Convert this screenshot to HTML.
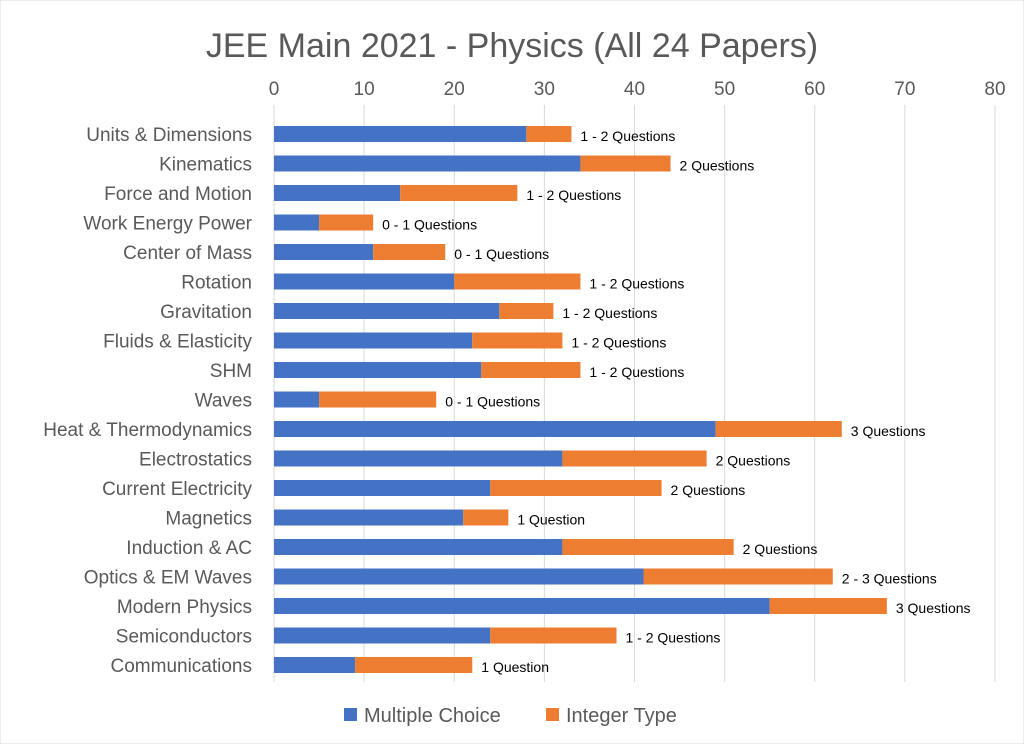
<!DOCTYPE html>
<html><head><meta charset="utf-8"><style>
body{margin:0;background:#fff;}
svg text{font-family:"Liberation Sans",sans-serif;}
</style></head><body>
<svg id="chart" width="1024" height="744" xmlns="http://www.w3.org/2000/svg">
<rect width="1024" height="744" fill="#fff" stroke="#d9d9d9"/>
<text x="512" y="57" text-anchor="middle" font-size="34" fill="#595959">JEE Main 2021 - Physics (All 24 Papers)</text>
<g id="grid"></g><g id="bars"></g><g id="labels"></g>
<g>
<rect x="344" y="708" width="13" height="13" fill="#4472C4"/>
<text x="364" y="722" font-size="20" fill="#595959">Multiple Choice</text>
<rect x="546" y="708" width="13" height="13" fill="#ED7D31"/>
<text x="566" y="722" font-size="20" fill="#595959">Integer Type</text>
</g>
</svg>
<script>
const categories=["Units & Dimensions","Kinematics","Force and Motion","Work Energy Power","Center of Mass","Rotation","Gravitation","Fluids & Elasticity","SHM","Waves","Heat & Thermodynamics","Electrostatics","Current Electricity","Magnetics","Induction & AC","Optics & EM Waves","Modern Physics","Semiconductors","Communications"];
const multipleChoice=[28,34,14,5,11,20,25,22,23,5,49,32,24,21,32,41,55,24,9];
const integerType=[5,10,13,6,8,14,6,10,11,13,14,16,19,5,19,21,13,14,13];
const questionLabels=["1 - 2 Questions","2 Questions","1 - 2 Questions","0 - 1 Questions","0 - 1 Questions","1 - 2 Questions","1 - 2 Questions","1 - 2 Questions","1 - 2 Questions","0 - 1 Questions","3 Questions","2 Questions","2 Questions","1 Question","2 Questions","2 - 3 Questions","3 Questions","1 - 2 Questions","1 Question"];
const ticks=[0,10,20,30,40,50,60,70,80];
const NS="http://www.w3.org/2000/svg";
const x=v=>274+v*(995-274)/80;
const y=i=>134+i*(665-134)/18;
function mk(tag,attrs,parent,txt){const e=document.createElementNS(NS,tag);for(const k in attrs)e.setAttribute(k,attrs[k]);if(txt!==undefined)e.textContent=txt;document.getElementById(parent).appendChild(e);return e;}
ticks.forEach(t=>{
 const l=mk('line',{x1:x(t),x2:x(t),y1:105,y2:682,stroke:'#d9d9d9','stroke-width':1},'grid');
 
 
 const tx=mk('text',{x:x(t),y:95,'text-anchor':'middle','font-size':19,fill:'#595959'},'grid',t);
 
 
});
categories.forEach((c,i)=>{
 const cy=y(i),h=16,m=multipleChoice[i],n=integerType[i];
 const ct=mk('text',{x:252,y:cy+7,'text-anchor':'end','font-size':19,fill:'#595959'},'labels',c);
 
 
 const b1=mk('rect',{x:x(0),y:cy-h/2,width:x(m)-x(0),height:h,fill:'#4472C4'},'bars');
 
 
 const b2=mk('rect',{x:x(m),y:cy-h/2,width:x(m+n)-x(m),height:h,fill:'#ED7D31'},'bars');
 
 
 const ql=mk('text',{x:x(m+n)+9,y:cy+7,'font-size':14,fill:'#000'},'labels',questionLabels[i]);
 
 
});
</script>
</body></html>
